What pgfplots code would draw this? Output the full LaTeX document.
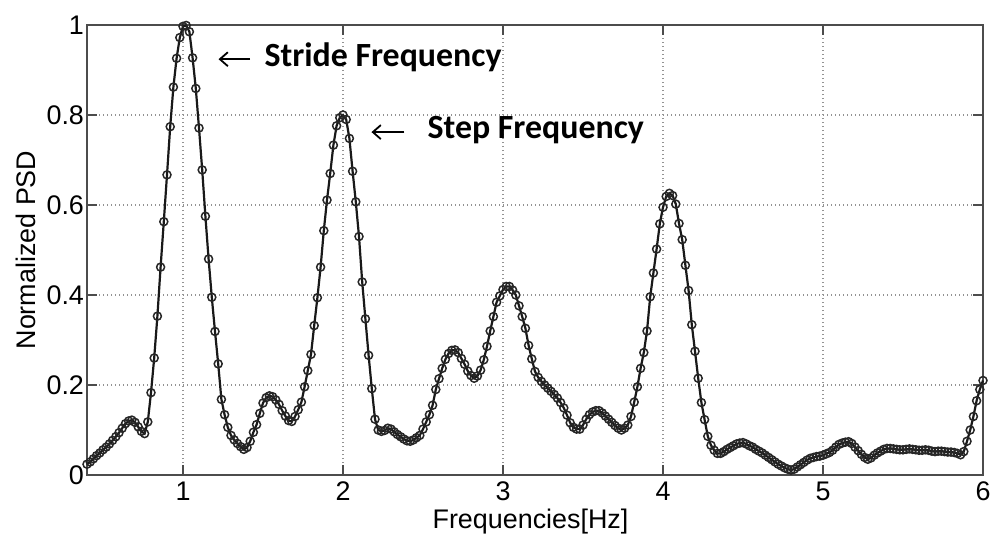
\documentclass[border=0pt]{standalone}
\usepackage{fontspec}
\setmainfont{Liberation Sans}
\newfontfamily\calibri{Carlito}
\usepackage{pgfplots}
\pgfplotsset{compat=1.18}
\usepackage{pgfplotstable}
\usetikzlibrary{arrows.meta}
\pgfplotstableread{
x y
0.40 0.024
0.42 0.029
0.44 0.036
0.46 0.043
0.48 0.049
0.50 0.056
0.52 0.062
0.54 0.069
0.56 0.077
0.58 0.085
0.60 0.094
0.62 0.104
0.64 0.114
0.66 0.120
0.68 0.122
0.70 0.117
0.72 0.107
0.74 0.097
0.76 0.092
0.78 0.118
0.80 0.183
0.82 0.260
0.84 0.353
0.86 0.462
0.88 0.563
0.90 0.667
0.92 0.774
0.94 0.862
0.96 0.926
0.98 0.972
1.00 0.997
1.02 0.999
1.04 0.985
1.06 0.927
1.08 0.859
1.10 0.771
1.12 0.678
1.14 0.575
1.16 0.480
1.18 0.395
1.20 0.319
1.22 0.247
1.24 0.168
1.26 0.134
1.28 0.106
1.30 0.088
1.32 0.078
1.34 0.070
1.36 0.063
1.38 0.057
1.40 0.061
1.42 0.075
1.44 0.095
1.46 0.112
1.48 0.137
1.50 0.160
1.52 0.172
1.54 0.176
1.56 0.174
1.58 0.167
1.60 0.157
1.62 0.143
1.64 0.131
1.66 0.121
1.68 0.119
1.70 0.130
1.72 0.145
1.74 0.162
1.76 0.196
1.78 0.232
1.80 0.268
1.82 0.332
1.84 0.394
1.86 0.462
1.88 0.543
1.90 0.611
1.92 0.670
1.94 0.733
1.96 0.776
1.98 0.794
2.00 0.800
2.02 0.790
2.04 0.748
2.06 0.675
2.08 0.607
2.10 0.530
2.12 0.429
2.14 0.347
2.16 0.266
2.18 0.192
2.20 0.124
2.22 0.100
2.24 0.097
2.26 0.099
2.28 0.104
2.30 0.102
2.32 0.096
2.34 0.090
2.36 0.085
2.38 0.080
2.40 0.076
2.42 0.075
2.44 0.078
2.46 0.083
2.48 0.088
2.50 0.102
2.52 0.118
2.54 0.134
2.56 0.155
2.58 0.190
2.60 0.214
2.62 0.237
2.64 0.257
2.66 0.270
2.68 0.277
2.70 0.278
2.72 0.272
2.74 0.259
2.76 0.246
2.78 0.231
2.80 0.221
2.82 0.215
2.84 0.220
2.86 0.233
2.88 0.256
2.90 0.286
2.92 0.320
2.94 0.352
2.96 0.384
2.98 0.398
3.00 0.412
3.02 0.419
3.04 0.419
3.06 0.411
3.08 0.400
3.10 0.376
3.12 0.352
3.14 0.326
3.16 0.288
3.18 0.258
3.20 0.230
3.22 0.217
3.24 0.208
3.26 0.200
3.28 0.193
3.30 0.186
3.32 0.179
3.34 0.171
3.36 0.161
3.38 0.149
3.40 0.133
3.42 0.116
3.44 0.106
3.46 0.102
3.48 0.102
3.50 0.111
3.52 0.124
3.54 0.134
3.56 0.140
3.58 0.143
3.60 0.143
3.62 0.138
3.64 0.131
3.66 0.124
3.68 0.117
3.70 0.110
3.72 0.104
3.74 0.100
3.76 0.104
3.78 0.111
3.80 0.130
3.82 0.162
3.84 0.196
3.86 0.237
3.88 0.272
3.90 0.320
3.92 0.396
3.94 0.449
3.96 0.502
3.98 0.558
4.00 0.595
4.02 0.619
4.04 0.626
4.06 0.621
4.08 0.602
4.10 0.559
4.12 0.523
4.14 0.466
4.16 0.410
4.18 0.334
4.20 0.275
4.22 0.215
4.24 0.161
4.26 0.123
4.28 0.086
4.30 0.066
4.32 0.055
4.34 0.048
4.36 0.048
4.38 0.052
4.40 0.057
4.42 0.061
4.44 0.065
4.46 0.069
4.48 0.071
4.50 0.072
4.52 0.069
4.54 0.065
4.56 0.062
4.58 0.057
4.60 0.053
4.62 0.049
4.64 0.044
4.66 0.039
4.68 0.034
4.70 0.029
4.72 0.024
4.74 0.020
4.76 0.016
4.78 0.013
4.80 0.011
4.82 0.013
4.84 0.018
4.86 0.023
4.88 0.028
4.90 0.033
4.92 0.037
4.94 0.039
4.96 0.041
4.98 0.042
5.00 0.044
5.02 0.047
5.04 0.050
5.06 0.055
5.08 0.062
5.10 0.068
5.12 0.071
5.14 0.073
5.16 0.074
5.18 0.070
5.20 0.062
5.22 0.054
5.24 0.046
5.26 0.039
5.28 0.035
5.30 0.038
5.32 0.044
5.34 0.049
5.36 0.053
5.38 0.057
5.40 0.059
5.42 0.059
5.44 0.058
5.46 0.057
5.48 0.056
5.50 0.056
5.52 0.057
5.54 0.058
5.56 0.057
5.58 0.056
5.60 0.055
5.62 0.055
5.64 0.056
5.66 0.055
5.68 0.053
5.70 0.052
5.72 0.053
5.74 0.053
5.76 0.052
5.78 0.051
5.80 0.051
5.82 0.050
5.84 0.048
5.86 0.045
5.88 0.052
5.90 0.075
5.92 0.100
5.94 0.130
5.96 0.165
5.98 0.190
6.00 0.210
}\psd
\begin{document}
\begin{tikzpicture}
\begin{axis}[
  at={(0,0)}, anchor=south west,
  scale only axis, width=448bp, height=225bp,
  xmin=0.4, xmax=6, ymin=0, ymax=1,
  xtick={1,2,3,4,5,6}, ytick={0,0.2,0.4,0.6,0.8,1},
  yticklabels={0,0.2,0.4,0.6,0.8,1},
  /pgf/number format/assume math mode=true,
  tick label style={font=\fontsize{13.5}{15}\selectfont, black},
  label style={font=\fontsize{13.5}{15}\selectfont, black},
  tick align=inside, tick pos=both,
  major tick length=5bp,
  every tick/.style={gray!60!black, line width=0.6bp},
  axis line style={gray!60!black, line width=0.8bp},
  grid=major,
  grid style={dash pattern=on 0.6bp off 1.4bp, gray!85, line width=0.6bp},
  yticklabel style={xshift=2bp},
  xlabel={Frequencies[Hz]},
  ylabel={Normalized PSD},
  xlabel style={at={(axis description cs:0.495,-0.103)}, anchor=center},
  ylabel style={at={(axis description cs:-0.068,0.5)}, anchor=center},
  clip=false,
]
\addplot[black!90, line width=1.1bp, mark=o, mark size=2bp,
  mark options={line width=0.75bp, black!85}] table[x=x, y=y] {\psd};
\draw[-{Straight Barb[length=4bp,width=7bp]}, line width=0.9bp]
  (axis cs:1.419,0.924) -- (axis cs:1.222,0.924);
\node[anchor=west, inner sep=0pt, font=\calibri\bfseries\fontsize{17}{19}\selectfont]
  at (axis cs:1.507,0.929) {Stride Frequency};
\draw[-{Straight Barb[length=4bp,width=7bp]}, line width=0.9bp]
  (axis cs:2.383,0.762) -- (axis cs:2.178,0.762);
\node[anchor=west, inner sep=0pt, font=\calibri\bfseries\fontsize{17}{19}\selectfont]
  at (axis cs:2.527,0.767) {Step Frequency};
\end{axis}
\pgfresetboundingbox
\path (-43.5bp,-37bp) rectangle (456.5bp,237.5bp);
\end{tikzpicture}
\end{document}
